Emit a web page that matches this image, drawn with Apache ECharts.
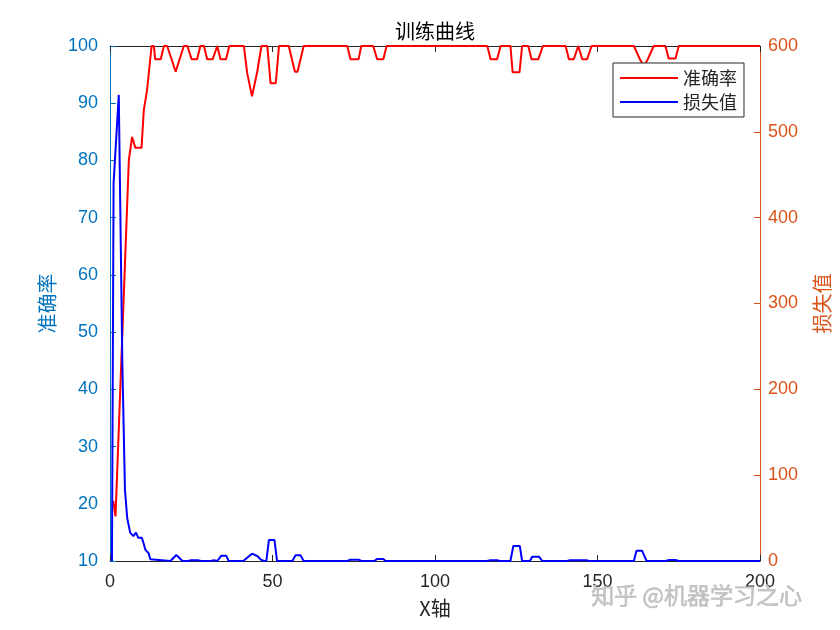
<!DOCTYPE html>
<html><head><meta charset="utf-8">
<script src="https://cdn.jsdelivr.net/npm/echarts@6/dist/echarts.min.js"></script>
<style>html,body{margin:0;padding:0;background:#fff}#c{width:840px;height:630px}</style>
</head><body><div id="c"></div>
<script>
// Accuracy (left axis) – vertices of the polyline
const accX = [1, 1.7, 5.8, 6.8, 7.8, 9.7, 10.4, 11.4, 12.8,
  13.5, 13.9, 15.6, 16.6,
  17.6, 20.2, 22.7,
  23.8, 25.1, 26.8, 27.8,
  28.9, 29.9, 31.6, 33, 34.0, 35.7, 36.7,
  41.2, 42.2, 43.7, 45.3, 46.6,
  48.4, 49.4, 51.0, 52,
  55, 56.9, 57.7, 59.6,
  73, 74, 76.5, 77.3,
  81, 82.2, 84.1, 85.1,
  116.1, 117.1, 119.1, 120.2,
  123.2, 123.9, 126, 126.8,
  128.7, 129.7, 131.8, 133.2,
  140.2, 141.2, 142.7, 144.1, 145.3, 146.8, 148.2,
  161.2, 163.2, 164.3, 165.3, 167.3,
  170.9, 171.9, 174, 175, 200];
const accY = [20.5, 17.8, 80.1, 84.1, 82.2, 82.2, 88.8, 92.3, 100,
  100, 97.7, 97.7, 100,
  100, 95.5, 100,
  100, 97.7, 97.7, 100,
  100, 97.7, 97.7, 100, 97.7, 97.7, 100,
  100, 95.3, 91.2, 95.5, 100,
  100, 93.5, 93.5, 100,
  100, 95.5, 95.5, 100,
  100, 97.7, 97.7, 100,
  100, 97.7, 97.7, 100,
  100, 97.7, 97.7, 100,
  100, 95.4, 95.4, 100,
  100, 97.7, 97.7, 100,
  100, 97.7, 97.7, 100, 97.7, 97.7, 100,
  100, 97.5, 96.5, 97.5, 100,
  100, 97.8, 97.8, 100, 100];

// Loss (right axis) – vertices of the polyline
const lossX = [0.6, 1.1, 2.7, 3.8, 4.6, 5.3, 6.2, 7.2, 8.0, 8.7, 9.8, 10.3, 10.9, 11.9, 12.4, 13,
  18.6, 20.4, 22.3,
  24, 25, 27, 28,
  31, 32, 33,
  33.5, 34.2, 35.8, 36.5,
  41, 43.7, 45.3, 46.3, 47.3,
  48.1, 48.9, 50.6, 51.4,
  56.1, 57.1, 58.6, 59.6,
  73, 74, 76.5, 77.3,
  81.2, 82.2, 84.1, 84.8,
  116, 117.1, 119.1, 120,
  123.2, 124.1, 126.1, 126.8,
  129.2, 129.9, 132, 133,
  140.7, 141.5, 146.5, 147.5,
  161.2, 162, 163.7, 165.1,
  171, 172, 174, 175, 200];
const lossY = [0, 440, 543, 230, 83, 50, 33, 29, 33, 27, 27, 21, 13, 9, 2, 0,
  0, 7, 0,
  0, 1, 1, 0,
  0, 1, 0,
  0, 6, 6, 0,
  0, 8.5, 5.8, 2, 0,
  0, 24.5, 24.5, 0,
  0, 6.6, 6.6, 0,
  0, 1.5, 1.5, 0,
  0, 2.3, 2.3, 0,
  0, 1, 1, 0,
  0, 17.5, 17.5, 0,
  0, 5, 5, 0,
  0, 1, 1, 0,
  0, 12, 12, 0,
  0, 1.2, 1.2, 0, 0];

const FONT = "'Liberation Sans', 'Noto Sans CJK SC', sans-serif";
const CJK = "'Noto Sans CJK SC', sans-serif";
const leftColor = '#0072BD', rightColor = '#D95319', dark = '#262626';

const accData = accX.map((x, i) => [x, accY[i]]);
const lossData = lossX.map((x, i) => [x, lossY[i]]);

const chart = echarts.init(document.getElementById('c'), null, {renderer: 'canvas'});
chart.setOption({
  animation: false,
  backgroundColor: '#fff',
  title: {text: '训练曲线', left: 395, top: 21, padding: 0,
    textStyle: {fontFamily: CJK, fontSize: 20, fontWeight: 'normal', color: '#000'}},
  grid: {left: 110, right: 80, top: 46, bottom: 69},
  legend: {
    orient: 'vertical', left: 613, top: 63, padding: [6, 7, 6, 7],
    itemWidth: 58, itemHeight: 2, itemGap: 6,
    borderColor: dark, borderWidth: 1, backgroundColor: '#fff', borderRadius: 0,
    textStyle: {fontFamily: CJK, fontSize: 18, color: dark},
    data: [{name: '准确率', icon: 'rect'}, {name: '损失值', icon: 'rect'}]
  },
  xAxis: [{
    type: 'value', min: 0, max: 200, interval: 50, position: 'bottom',
    name: 'X轴', nameLocation: 'middle', nameGap: 37,
    nameTextStyle: {fontFamily: CJK, fontSize: 20, color: dark},
    axisLine: {onZero: false, lineStyle: {color: dark, width: 1}},
    axisTick: {inside: true, length: 6, lineStyle: {color: dark}},
    axisLabel: {fontFamily: FONT, fontSize: 18, color: dark, margin: 12},
    splitLine: {show: false}
  }, {
    type: 'value', min: 0, max: 200, interval: 50, position: 'top',
    axisLine: {onZero: false, lineStyle: {color: dark, width: 1}},
    axisTick: {inside: true, length: 6, lineStyle: {color: dark}},
    axisLabel: {show: false}, splitLine: {show: false}
  }],
  yAxis: [{
    type: 'value', min: 10, max: 100, interval: 10, position: 'left',
    name: '准确率', nameLocation: 'middle', nameGap: 52, nameRotate: 90,
    nameTextStyle: {fontFamily: CJK, fontSize: 20, color: leftColor},
    axisLine: {show: true, onZero: false, lineStyle: {color: leftColor, width: 1}},
    axisTick: {show: true, inside: true, length: 6, lineStyle: {color: leftColor}},
    axisLabel: {fontFamily: FONT, fontSize: 18, color: leftColor, margin: 12},
    splitLine: {show: false}
  }, {
    type: 'value', min: 0, max: 600, interval: 100, position: 'right',
    name: '损失值', nameLocation: 'middle', nameGap: 52, nameRotate: 90,
    nameTextStyle: {fontFamily: CJK, fontSize: 20, color: rightColor},
    axisLine: {show: true, onZero: false, lineStyle: {color: rightColor, width: 1}},
    axisTick: {show: true, inside: true, length: 6, lineStyle: {color: rightColor}},
    axisLabel: {fontFamily: FONT, fontSize: 18, color: rightColor, margin: 8},
    splitLine: {show: false}
  }],
  series: [{
    name: '准确率', type: 'line', xAxisIndex: 0, yAxisIndex: 0, data: accData,
    showSymbol: false, symbol: 'none', z: 2,
    lineStyle: {color: '#FF0000', width: 2}, itemStyle: {color: '#FF0000'}
  }, {
    name: '损失值', type: 'line', xAxisIndex: 0, yAxisIndex: 1, data: lossData,
    showSymbol: false, symbol: 'none', z: 3,
    lineStyle: {color: '#0000FF', width: 2}, itemStyle: {color: '#0000FF'}
  }],
  graphic: [{
    type: 'text', left: 591, top: 584, z: 10,
    style: {text: '知乎 @机器学习之心', fontFamily: CJK, fontSize: 23, fill: '#c4c4c4',
      stroke: '#9a9a9a', lineWidth: 0.4}
  }]
});
</script>
</body></html>
